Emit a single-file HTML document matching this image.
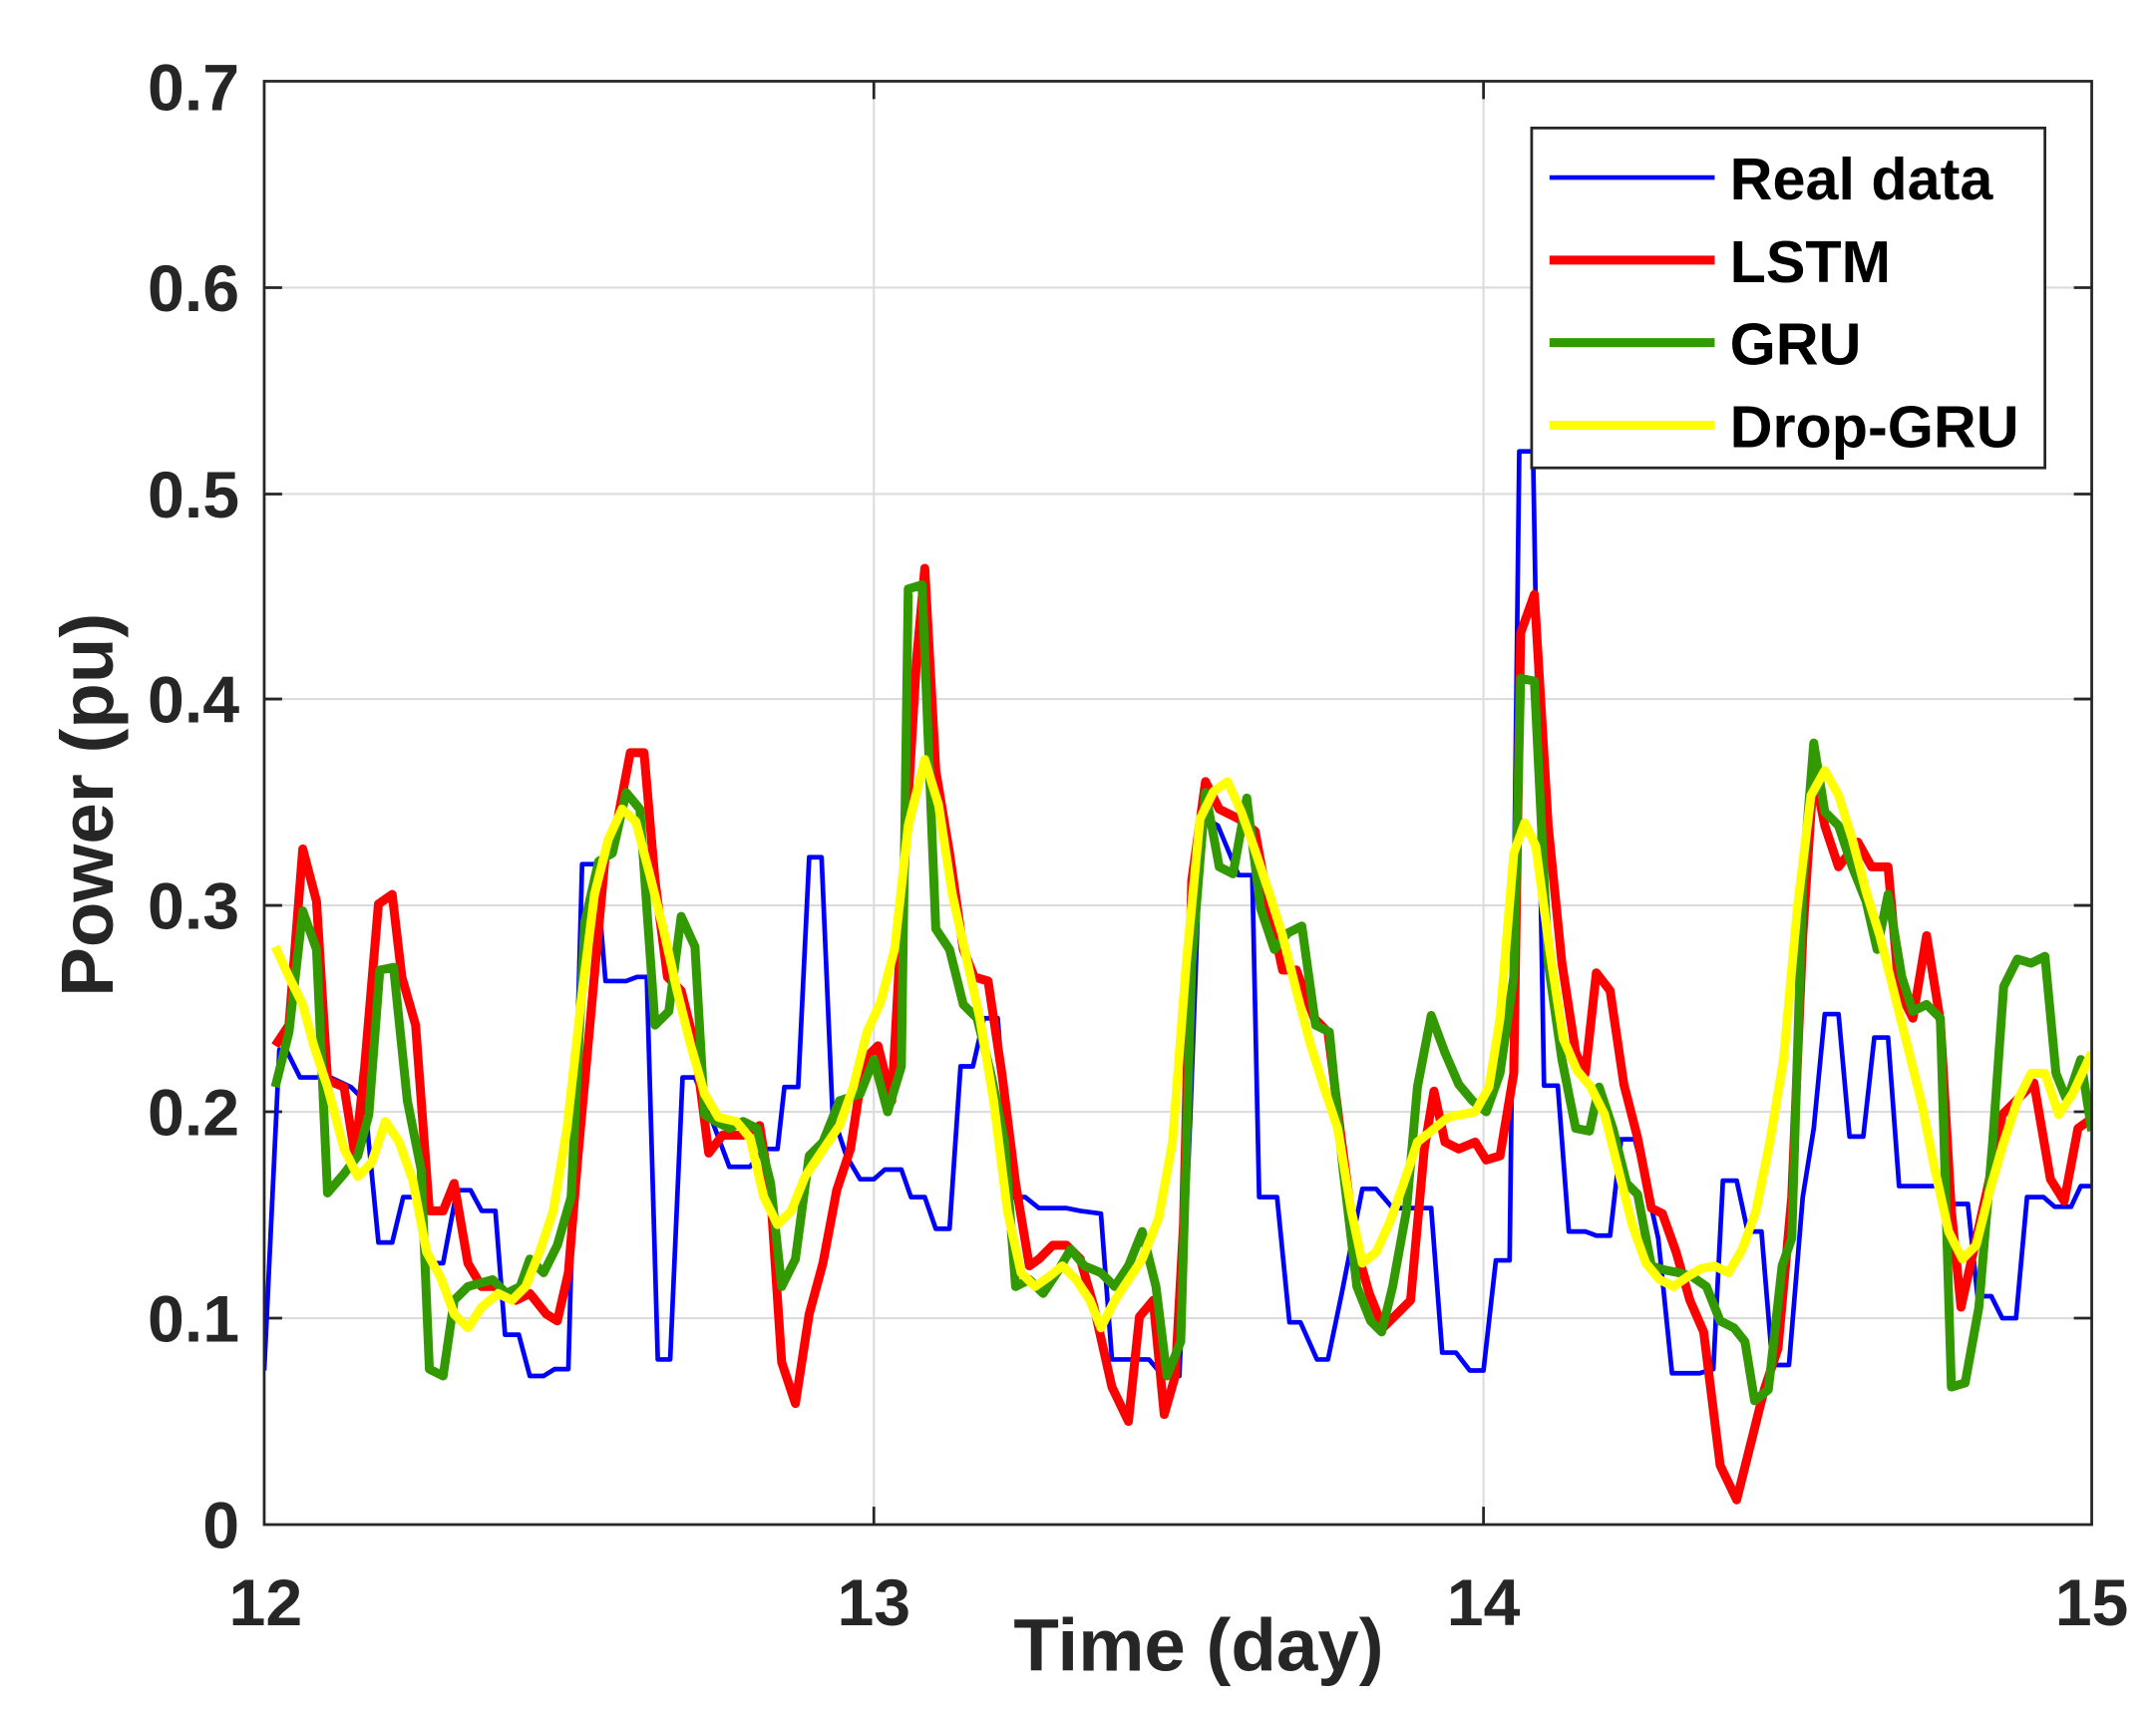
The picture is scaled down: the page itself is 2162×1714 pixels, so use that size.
<!DOCTYPE html>
<html><head><meta charset="utf-8"><style>html,body{margin:0;padding:0;background:#fff}svg{display:block}</style></head>
<body>
<svg width="2162" height="1714" viewBox="0 0 1566.7 1242" xmlns="http://www.w3.org/2000/svg" font-family="Liberation Sans, sans-serif" font-weight="bold">
<defs><clipPath id="c"><rect x="192" y="59" width="1328" height="1049"/></clipPath></defs>
<rect width="1566.7" height="1242" fill="#fff"/>
<g stroke="#dcdcdc" stroke-width="1.5">
<line x1="635" y1="59" x2="635" y2="1108"/><line x1="1078" y1="59" x2="1078" y2="1108"/>
<line x1="192" y1="958" x2="1520" y2="958"/><line x1="192" y1="808" x2="1520" y2="808"/><line x1="192" y1="658" x2="1520" y2="658"/><line x1="192" y1="508" x2="1520" y2="508"/><line x1="192" y1="359" x2="1520" y2="359"/><line x1="192" y1="209" x2="1520" y2="209"/>
</g>
<g stroke="#262626" stroke-width="2">
<line x1="635" y1="1108" x2="635" y2="1095"/><line x1="1078" y1="1108" x2="1078" y2="1095"/>
<line x1="635" y1="59" x2="635" y2="72"/><line x1="1078" y1="59" x2="1078" y2="72"/>
<path d="M192 958h13M192 808h13M192 658h13M192 508h13M192 359h13M192 209h13M1520 958h-13M1520 808h-13M1520 658h-13M1520 508h-13M1520 359h-13M1520 209h-13"/>
</g>
<g clip-path="url(#c)" fill="none" stroke-linejoin="round">
<polyline stroke="#0000ff" stroke-width="3.4" points="192,996 203,763 208,763 218,783 230,783 240,783 255,790 265,800 275,903 285,903 293,870 305,870 312,918 322,918 332,865 342,865 350,880 360,880 367,970 377,970 385,1000 395,1000 403,995 413,995 423,628 433,628 440,713 455,713 463,710 470,710 478,988 487,988 496,783 505,783 515,808 530,848 545,848 555,835 565,835 570,790 580,790 588,623 597,623 605,810 615,840 625,857 635,857 643,850 655,850 662,870 672,870 680,893 690,893 698,775 707,775 715,740 725,740 735,870 745,870 755,878 775,878 785,880 800,882 808,988 820,988 835,988 845,1000 857,1000 865,810 873,593 885,600 900,636 910,636 915,870 928,870 937,961 945,961 957,988 965,988 975,940 990,864 1000,864 1012,878 1040,878 1048,983 1058,983 1068,996 1078,996 1087,916 1097,916 1104,328 1114,328 1122,789 1132,789 1140,895 1152,895 1160,898 1170,898 1178,828 1188,828 1195,855 1205,900 1215,998 1235,998 1245,995 1252,858 1262,858 1270,895 1280,895 1288,992 1300,992 1310,870 1318,820 1326,737 1336,737 1344,826 1354,826 1362,754 1372,754 1380,862 1408,862 1418,875 1430,875 1437,942 1447,942 1455,958 1465,958 1473,870 1485,870 1493,877 1505,877 1512,862 1520,862"/>
<polyline stroke="#ff0000" stroke-width="6.5" points="200,760 210,745 220,617 230,655 238,785 250,790 258,840 265,775 275,657 285,650 292,710 302,745 312,880 322,880 330,860 340,918 350,935 360,935 375,945 385,940 397,955 405,960 413,925 420,840 430,730 440,620 448,600 458,547 468,547 476,640 485,710 495,720 505,760 515,838 525,825 540,825 552,818 560,868 568,990 578,1020 588,955 598,918 608,865 618,835 628,770 638,760 648,800 660,580 666,480 672,413 680,560 690,620 700,690 708,710 718,713 728,780 738,860 748,920 755,915 765,905 775,905 785,915 795,950 808,1008 820,1033 828,957 838,945 846,1028 854,1000 860,890 866,640 876,568 886,588 900,595 912,604 922,658 932,705 942,705 955,740 965,750 975,830 985,905 995,940 1005,965 1015,955 1025,945 1035,835 1042,793 1050,830 1060,835 1072,830 1080,843 1090,840 1100,780 1105,460 1115,432 1125,600 1135,700 1145,765 1152,780 1160,707 1170,720 1180,788 1190,827 1200,878 1208,882 1218,910 1228,945 1238,968 1250,1065 1262,1090 1272,1050 1282,1010 1292,980 1302,870 1310,680 1318,560 1326,600 1336,630 1350,612 1360,630 1372,630 1380,720 1390,740 1400,680 1410,742 1418,880 1425,950 1435,905 1445,860 1455,810 1465,800 1478,787 1490,857 1500,873 1510,820 1520,813"/>
<polyline stroke="#339900" stroke-width="6.5" points="200,790 210,750 220,662 230,690 238,867 250,853 260,840 268,810 276,705 286,703 296,800 306,850 312,995 322,1000 330,945 340,935 358,930 368,940 378,935 385,915 395,925 405,905 415,870 425,670 435,626 445,620 455,576 465,588 476,745 486,735 495,666 505,688 512,810 520,815 530,820 540,815 550,820 560,860 568,935 578,915 588,840 598,830 610,800 625,795 635,770 645,808 655,775 660,428 670,425 680,675 690,690 700,730 710,740 720,780 730,830 738,935 748,930 758,940 768,925 778,908 788,920 800,925 810,935 820,920 830,895 840,935 848,1000 858,975 866,700 876,576 886,630 896,635 906,580 916,660 926,690 936,678 946,673 956,745 966,750 976,850 986,935 996,960 1004,968 1012,935 1022,880 1030,790 1040,738 1050,765 1060,788 1070,800 1080,808 1090,780 1100,710 1105,493 1115,495 1125,700 1135,770 1145,820 1155,822 1162,790 1172,820 1182,860 1190,868 1200,920 1210,923 1220,925 1230,928 1240,935 1250,960 1260,965 1268,975 1275,1018 1285,1010 1295,920 1302,900 1310,640 1318,540 1326,590 1336,600 1346,630 1356,655 1364,690 1372,650 1382,710 1390,735 1400,730 1410,740 1418,1008 1428,1005 1438,950 1448,830 1456,717 1466,697 1476,700 1486,695 1494,780 1502,800 1512,770 1520,822"/>
<polyline stroke="#ffff00" stroke-width="6.5" points="200,688 210,710 220,730 228,760 238,790 250,835 260,855 270,845 280,815 290,830 300,858 310,910 320,928 330,955 340,965 350,950 362,940 372,945 382,935 392,910 402,880 412,820 422,730 432,650 442,610 452,588 462,597 472,635 482,675 492,720 502,760 512,795 522,812 535,815 545,827 555,870 565,890 575,880 585,855 595,840 610,818 620,790 630,750 640,728 650,690 660,600 672,552 682,585 692,650 702,695 712,740 722,800 732,880 742,925 752,935 762,928 772,920 782,930 792,945 800,965 810,945 820,930 830,915 842,885 852,830 862,700 872,595 882,575 892,568 902,590 912,618 922,648 932,680 942,720 952,758 962,790 972,820 982,880 990,918 1000,910 1010,888 1020,860 1030,830 1040,822 1052,812 1062,810 1072,808 1082,790 1090,740 1100,620 1108,598 1116,615 1126,690 1136,755 1146,778 1156,790 1166,810 1176,850 1186,890 1196,918 1206,930 1216,935 1226,928 1236,922 1246,920 1256,925 1266,908 1276,880 1286,830 1296,770 1306,660 1316,578 1326,560 1336,578 1346,610 1356,648 1366,680 1376,720 1386,760 1396,800 1406,850 1416,895 1426,915 1436,905 1446,865 1456,830 1466,800 1476,780 1486,780 1496,810 1506,795 1520,765"/>
</g>
<rect x="192" y="59" width="1328" height="1049" fill="none" stroke="#262626" stroke-width="2"/>
<g fill="#262626" font-size="48" text-anchor="end">
<text x="174" y="1125">0</text><text x="174" y="975">0.1</text><text x="174" y="825">0.2</text><text x="174" y="675">0.3</text><text x="174" y="525">0.4</text><text x="174" y="376">0.5</text><text x="174" y="226">0.6</text><text x="174" y="80">0.7</text>
</g>
<g fill="#262626" font-size="48" text-anchor="middle">
<text x="193" y="1181">12</text><text x="635" y="1181">13</text><text x="1078" y="1181">14</text><text x="1520" y="1181">15</text>
<text x="871" y="1214" font-size="54">Time (day)</text>
<text transform="translate(82,585) rotate(-90)" font-size="54">Power (pu)</text>
</g>
<rect x="1113" y="93" width="373" height="247" fill="#fff" stroke="#262626" stroke-width="2"/>
<g stroke-width="6.5">
<line x1="1126" y1="129" x2="1246" y2="129" stroke="#0000ff" stroke-width="3.4"/>
<line x1="1126" y1="189" x2="1246" y2="189" stroke="#ff0000"/>
<line x1="1126" y1="249" x2="1246" y2="249" stroke="#339900"/>
<line x1="1126" y1="309" x2="1246" y2="309" stroke="#ffff00"/>
</g>
<g fill="#000" font-size="43">
<text x="1257" y="145">Real data</text><text x="1257" y="205">LSTM</text><text x="1257" y="265">GRU</text><text x="1257" y="325">Drop-GRU</text>
</g>
</svg>
</body></html>
